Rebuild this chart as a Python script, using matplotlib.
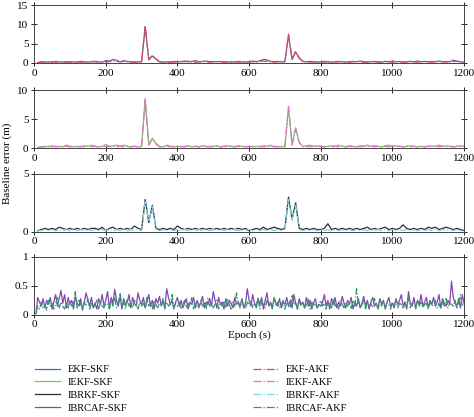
import numpy as np
import matplotlib
matplotlib.use("Agg")
import matplotlib.pyplot as plt
from matplotlib.ticker import FormatStrFormatter

plt.rcParams['font.family'] = ['Liberation Serif', 'DejaVu Serif']
plt.rcParams['font.size'] = 8

# epochs for the three upper panels (every 10 s)
epoch10 = np.arange(10, 1201, 10)
# epochs for the bottom panel (every 5 s)
epoch5 = np.arange(5, 1201, 5)

ekf_skf = [0.1,0.3,0.2,0.3,0.2,0.4,0.3,0.2,0.3,0.2,
           0.3,0.2,0.4,0.3,0.2,0.3,0.4,0.3,0.2,0.6,
           0.5,0.9,0.7,0.3,0.6,0.4,0.3,0.2,0.3,0.3,
           9.3,0.8,1.8,1.0,0.3,0.2,0.3,0.2,0.4,0.3,
           0.3,0.5,0.3,0.4,0.6,0.3,0.4,0.5,0.3,0.4,
           0.3,0.4,0.2,0.3,0.2,0.3,0.4,0.3,0.2,0.3,
           0.5,0.3,0.6,0.9,0.8,0.4,0.3,0.4,0.3,0.3,
           7.2,0.9,2.8,1.2,0.4,0.3,0.4,0.3,0.2,0.3,
           0.4,0.3,0.2,0.3,0.4,0.3,0.2,0.3,0.4,0.3,
           0.5,0.3,0.2,0.3,0.4,0.3,0.2,0.4,0.3,0.5,
           0.3,0.4,0.2,0.3,0.4,0.3,0.5,0.3,0.4,0.3,
           0.4,0.3,0.5,0.3,0.4,0.3,0.7,0.4,0.3,0.2]
ekf_akf = [0.1,0.2,0.3,0.2,0.3,0.2,0.3,0.4,0.2,0.3,
           0.2,0.3,0.2,0.3,0.2,0.4,0.3,0.2,0.3,0.4,
           0.3,0.5,0.4,0.3,0.4,0.3,0.2,0.3,0.2,0.3,
           9.7,0.9,2.0,1.1,0.3,0.3,0.2,0.3,0.2,0.3,
           0.4,0.3,0.5,0.3,0.2,0.3,0.4,0.3,0.2,0.3,
           0.4,0.3,0.2,0.3,0.4,0.3,0.2,0.3,0.4,0.3,
           0.3,0.2,0.4,0.5,0.4,0.3,0.2,0.3,0.4,0.3,
           7.5,1.0,3.1,1.3,0.4,0.3,0.2,0.3,0.4,0.3,
           0.2,0.4,0.3,0.2,0.3,0.4,0.3,0.2,0.3,0.4,
           0.3,0.2,0.3,0.4,0.3,0.2,0.3,0.4,0.3,0.2,
           0.4,0.3,0.2,0.3,0.4,0.3,0.2,0.3,0.4,0.3,
           0.2,0.3,0.4,0.3,0.2,0.4,0.3,0.5,0.3,0.2]

iekf_skf = [0.1,0.2,0.3,0.2,0.4,0.2,0.3,0.2,0.5,0.3,
            0.2,0.3,0.2,0.4,0.3,0.5,0.3,0.2,0.3,0.6,
            0.3,0.4,0.5,0.3,0.5,0.3,0.2,0.3,0.2,0.3,
            8.3,0.6,1.7,0.8,0.3,0.2,0.5,0.3,0.2,0.3,
            0.2,0.3,0.4,0.2,0.3,0.2,0.4,0.3,0.2,0.3,
            0.4,0.2,0.3,0.4,0.3,0.2,0.4,0.3,0.2,0.3,
            0.2,0.3,0.2,0.4,0.3,0.5,0.2,0.3,0.2,0.3,
            7.0,0.6,3.5,1.0,0.3,0.4,0.5,0.3,0.4,0.3,
            0.2,0.3,0.4,0.3,0.5,0.3,0.2,0.4,0.3,0.2,
            0.4,0.3,0.5,0.3,0.4,0.3,0.2,0.4,0.5,0.3,
            0.4,0.3,0.2,0.3,0.4,0.3,0.2,0.3,0.2,0.3,
            0.4,0.3,0.5,0.3,0.4,0.3,0.2,0.3,0.4,0.3]
iekf_akf = [0.1,0.2,0.2,0.3,0.2,0.3,0.2,0.3,0.3,0.2,
            0.3,0.2,0.3,0.2,0.3,0.2,0.3,0.2,0.3,0.3,
            0.2,0.3,0.2,0.3,0.2,0.3,0.2,0.3,0.2,0.2,
            8.5,0.5,1.6,0.7,0.2,0.2,0.3,0.2,0.3,0.2,
            0.3,0.2,0.3,0.2,0.3,0.2,0.3,0.2,0.3,0.2,
            0.3,0.2,0.3,0.2,0.3,0.2,0.3,0.2,0.3,0.2,
            0.3,0.2,0.3,0.2,0.3,0.2,0.3,0.2,0.3,0.2,
            7.2,0.5,3.3,0.9,0.2,0.3,0.2,0.3,0.2,0.3,
            0.2,0.3,0.2,0.3,0.2,0.3,0.2,0.3,0.2,0.3,
            0.2,0.3,0.2,0.3,0.2,0.3,0.2,0.3,0.2,0.3,
            0.2,0.3,0.2,0.3,0.2,0.3,0.2,0.3,0.2,0.3,
            0.2,0.3,0.2,0.3,0.2,0.3,0.2,0.3,0.2,0.3]

ibrkf_skf = [0.1,0.2,0.3,0.2,0.3,0.2,0.4,0.3,0.2,0.3,
             0.2,0.3,0.2,0.3,0.2,0.3,0.3,0.2,0.4,0.1,
             0.3,0.4,0.2,0.3,0.2,0.3,0.2,0.5,0.3,0.2,
             2.8,0.8,2.3,0.3,0.2,0.3,0.2,0.3,0.2,0.5,
             0.3,0.2,0.3,0.2,0.3,0.2,0.3,0.2,0.3,0.2,
             0.3,0.2,0.3,0.2,0.3,0.2,0.3,0.2,0.3,0.1,
             0.2,0.3,0.2,0.4,0.2,0.3,0.4,0.3,0.2,0.3,
             3.0,1.1,2.5,0.3,0.2,0.3,0.2,0.3,0.2,0.2,
             0.3,0.7,0.2,0.3,0.2,0.3,0.2,0.3,0.2,0.3,
             0.2,0.3,0.4,0.2,0.3,0.2,0.3,0.4,0.2,0.3,
             0.2,0.3,0.6,0.3,0.2,0.3,0.2,0.3,0.2,0.4,
             0.3,0.4,0.2,0.3,0.4,0.3,0.2,0.3,0.2,0.1]
ibrkf_akf = [0.1,0.1,0.2,0.1,0.2,0.1,0.2,0.1,0.2,0.1,
             0.2,0.1,0.2,0.1,0.2,0.1,0.2,0.1,0.2,0.1,
             0.2,0.1,0.2,0.1,0.2,0.1,0.2,0.1,0.2,0.1,
             2.6,0.9,2.2,0.2,0.1,0.2,0.1,0.2,0.1,0.2,
             0.1,0.2,0.1,0.2,0.1,0.2,0.1,0.2,0.1,0.2,
             0.1,0.2,0.1,0.2,0.1,0.2,0.1,0.2,0.1,0.2,
             0.1,0.2,0.1,0.2,0.1,0.2,0.1,0.2,0.1,0.2,
             2.8,1.0,2.3,0.2,0.1,0.2,0.1,0.2,0.1,0.2,
             0.1,0.2,0.1,0.2,0.1,0.2,0.1,0.2,0.1,0.2,
             0.1,0.2,0.1,0.2,0.1,0.2,0.1,0.2,0.1,0.2,
             0.1,0.2,0.1,0.2,0.1,0.2,0.1,0.2,0.1,0.2,
             0.1,0.2,0.1,0.2,0.1,0.2,0.1,0.2,0.1,0.2]

ibrcaf_skf = [0.02,0.30,0.22,0.15,0.28,0.12,0.25,0.18,0.30,0.10,0.22,0.35,0.15,0.28,0.42,0.20,0.35,0.12,0.30,0.18,
              0.25,0.10,0.32,0.20,0.15,0.28,0.08,0.22,0.38,0.25,0.15,0.30,0.12,0.20,0.10,0.28,0.18,0.35,0.15,0.25,
              0.40,0.12,0.30,0.20,0.44,0.25,0.15,0.32,0.10,0.28,0.18,0.22,0.35,0.12,0.30,0.20,0.15,0.38,0.25,0.18,
              0.30,0.12,0.22,0.35,0.15,0.25,0.10,0.28,0.20,0.32,0.15,0.25,0.12,0.45,0.30,0.18,0.25,0.10,0.22,0.30,
              0.15,0.25,0.12,0.20,0.28,0.10,0.22,0.18,0.30,0.12,0.25,0.15,0.20,0.32,0.12,0.22,0.18,0.28,0.15,0.40,
              0.25,0.12,0.30,0.18,0.22,0.10,0.28,0.15,0.25,0.20,0.12,0.30,0.18,0.22,0.15,0.28,0.12,0.20,0.45,0.25,
              0.15,0.35,0.20,0.12,0.28,0.18,0.30,0.10,0.25,0.38,0.15,0.22,0.12,0.30,0.20,0.15,0.28,0.12,0.22,0.18,
              0.30,0.15,0.25,0.12,0.35,0.20,0.10,0.28,0.18,0.22,0.12,0.30,0.15,0.25,0.10,0.20,0.28,0.12,0.18,0.15,
              0.22,0.35,0.15,0.25,0.10,0.28,0.18,0.30,0.12,0.22,0.15,0.32,0.20,0.12,0.25,0.18,0.30,0.10,0.22,0.15,
              0.28,0.12,0.20,0.32,0.15,0.25,0.10,0.22,0.30,0.15,0.20,0.12,0.28,0.18,0.25,0.10,0.22,0.30,0.15,0.20,
              0.12,0.28,0.18,0.25,0.35,0.15,0.22,0.10,0.40,0.20,0.15,0.30,0.12,0.25,0.18,0.35,0.15,0.22,0.30,0.12,
              0.25,0.18,0.30,0.15,0.22,0.35,0.12,0.28,0.20,0.15,0.25,0.18,0.58,0.30,0.20,0.15,0.28,0.12,0.35,0.20]
ibrcaf_akf = [0.02,0.15,0.10,0.22,0.12,0.18,0.08,0.25,0.15,0.20,0.10,0.18,0.30,0.12,0.22,0.15,0.10,0.20,0.12,0.25,
              0.15,0.20,0.40,0.12,0.25,0.18,0.10,0.22,0.15,0.28,0.10,0.20,0.12,0.18,0.25,0.10,0.22,0.15,0.12,0.20,
              0.18,0.10,0.25,0.15,0.30,0.12,0.20,0.38,0.15,0.22,0.10,0.28,0.15,0.20,0.12,0.25,0.18,0.10,0.22,0.15,
              0.20,0.12,0.30,0.15,0.22,0.10,0.25,0.18,0.12,0.20,0.15,0.28,0.10,0.22,0.15,0.18,0.35,0.12,0.20,0.15,
              0.22,0.10,0.18,0.25,0.12,0.20,0.15,0.30,0.10,0.22,0.18,0.12,0.25,0.15,0.20,0.10,0.28,0.15,0.22,0.12,
              0.18,0.25,0.10,0.20,0.15,0.22,0.12,0.28,0.18,0.10,0.22,0.15,0.38,0.20,0.12,0.25,0.15,0.10,0.22,0.18,
              0.25,0.12,0.20,0.15,0.30,0.10,0.22,0.18,0.12,0.25,0.15,0.20,0.10,0.28,0.15,0.22,0.12,0.18,0.25,0.10,
              0.20,0.15,0.12,0.35,0.18,0.22,0.10,0.25,0.15,0.20,0.12,0.18,0.28,0.10,0.22,0.15,0.20,0.12,0.18,0.25,
              0.15,0.20,0.10,0.22,0.18,0.12,0.28,0.15,0.20,0.10,0.25,0.18,0.12,0.22,0.15,0.20,0.10,0.25,0.15,0.45,
              0.20,0.12,0.18,0.25,0.10,0.22,0.15,0.20,0.12,0.28,0.18,0.10,0.22,0.15,0.25,0.12,0.20,0.18,0.10,0.22,
              0.15,0.25,0.12,0.20,0.18,0.10,0.22,0.15,0.28,0.12,0.20,0.18,0.10,0.25,0.15,0.22,0.12,0.18,0.20,0.10,
              0.22,0.15,0.18,0.25,0.12,0.20,0.10,0.22,0.15,0.28,0.12,0.20,0.18,0.15,0.25,0.10,0.22,0.35,0.15,0.20]

skf_labels = ["EKF-SKF", "IEKF-SKF", "IBRKF-SKF", "IBRCAF-SKF"]
akf_labels = ["EKF-AKF", "IEKF-AKF", "IBRKF-AKF", "IBRCAF-AKF"]
skf_colors = ["#5f64a0", "#6fcf4f", "#2e2e3a", "#8548b0"]
akf_colors = ["#e0455a", "#e070c8", "#7fd6e0", "#2f9a6a"]
ylims = [15, 10, 5, 1]
yticks = [[0, 5, 10, 15], [0, 5, 10], [0, 5], [0, 0.5, 1]]

panels = [(epoch10, ekf_skf, ekf_akf),
          (epoch10, iekf_skf, iekf_akf),
          (epoch10, ibrkf_skf, ibrkf_akf),
          (epoch5, ibrcaf_skf, ibrcaf_akf)]

fig = plt.figure(figsize=(4.74, 4.17), dpi=100)
tops = [0.988, 0.784, 0.583, 0.384]
h = 0.139
skf_handles, akf_handles = [], []
for i, (x, s, a) in enumerate(panels):
    ax = fig.add_axes([0.072, tops[i] - h, 0.907, h])
    l1, = ax.plot(x, s, color=skf_colors[i], lw=0.9)
    l2, = ax.plot(x, a, color=akf_colors[i], lw=0.9, ls='-.')
    skf_handles.append(l1)
    akf_handles.append(l2)
    ax.set_xlim(0, 1200)
    ax.set_ylim(0, ylims[i])
    ax.set_xticks([0, 200, 400, 600, 800, 1000, 1200])
    ax.set_yticks(yticks[i])
    ax.yaxis.set_major_formatter(FormatStrFormatter('%g'))
    ax.tick_params(direction='inout', length=4, width=0.6, top=True, right=True,
                   labelsize=8, pad=2)
    for sp in ax.spines.values():
        sp.set_linewidth(0.7)
        sp.set_color('#444444')
    if i == 3:
        ax.set_xlabel("Epoch (s)", fontsize=8, labelpad=1)

fig.text(0.006, 0.609, "Baseline error (m)", rotation=90, va='center', ha='left', fontsize=8)

fig.legend(skf_handles, skf_labels, loc='upper left', bbox_to_anchor=(0.065, 0.135),
           frameon=False, fontsize=7.5, handlelength=2.4, handletextpad=0.7,
           labelspacing=0.35, borderaxespad=0)
fig.legend(akf_handles, akf_labels, loc='upper left', bbox_to_anchor=(0.525, 0.135),
           frameon=False, fontsize=7.5, handlelength=2.4, handletextpad=0.7,
           labelspacing=0.35, borderaxespad=0)

fig.savefig("out.png", dpi=100)
